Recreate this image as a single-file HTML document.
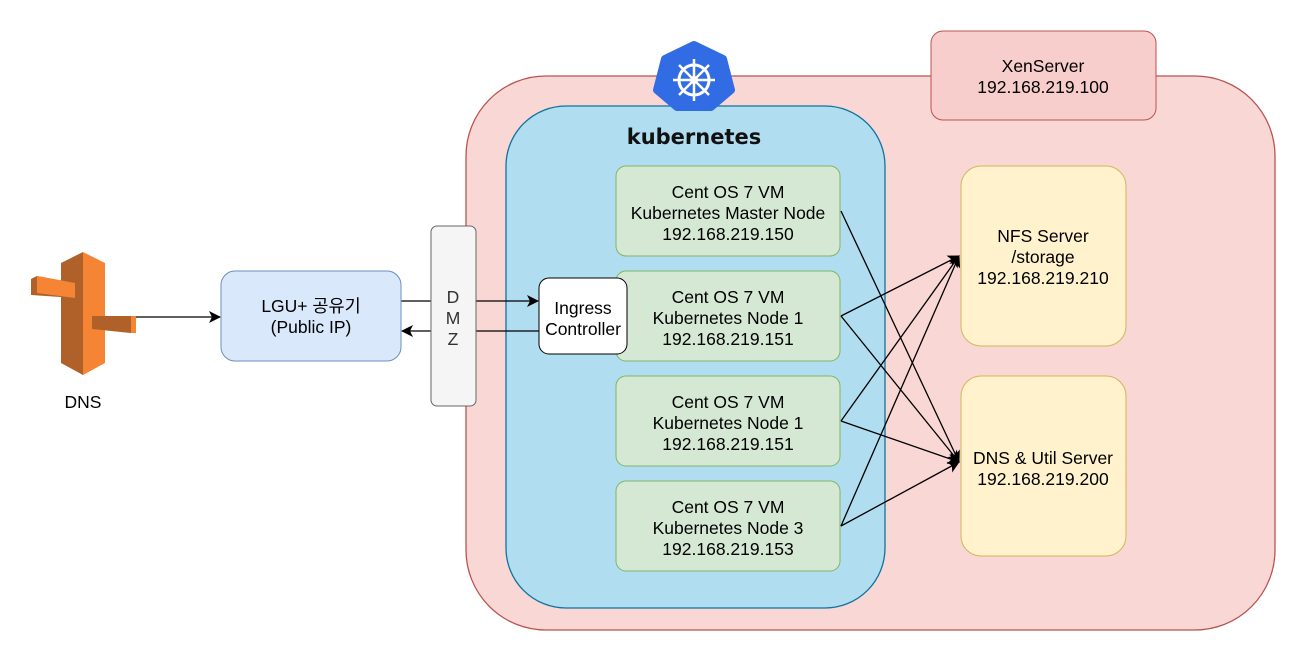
<!DOCTYPE html>
<html><head><meta charset="utf-8"><style>
body{margin:0;background:#fff;width:1307px;height:662px;overflow:hidden;font-family:"Liberation Sans","Noto Sans CJK KR",sans-serif;}
</style></head><body>
<svg width="1307" height="662" xmlns="http://www.w3.org/2000/svg" font-family="Liberation Sans, Noto Sans CJK KR, sans-serif" font-size="17.5" fill="#000">
<defs><marker id="a" markerWidth="12" markerHeight="12" refX="11" refY="6" orient="auto" markerUnits="userSpaceOnUse"><path d="M0,0 L12,6 L0,12 L3,6 Z" fill="#000"/></marker></defs>
<rect x="466" y="76" width="809" height="554" rx="80" fill="#f8d7d5" stroke="#b85450" stroke-width="1.3"/>
<rect x="931" y="31" width="225" height="89" rx="12" fill="#f8cecc" stroke="#b85450"/>
<text x="1043" y="72" text-anchor="middle">XenServer</text>
<text x="1043" y="93" text-anchor="middle">192.168.219.100</text>
<rect x="506" y="106" width="379" height="502" rx="60" fill="#b1ddf0" stroke="#10739e" stroke-width="1.3"/>
<polygon points="694,45 723,59 731,90 711,107 677,107 657,90 665,59" fill="#326ce5" stroke="#326ce5" stroke-width="8" stroke-linejoin="round"/>
<g stroke="#fff" stroke-width="3" fill="none"><circle cx="694" cy="80" r="15"/>
<g stroke-width="2.5"><line x1="694" y1="59" x2="694" y2="101"/><line x1="673" y1="80" x2="715" y2="80"/><line x1="679" y1="65" x2="709" y2="95"/><line x1="709" y1="65" x2="679" y2="95"/></g></g>
<circle cx="694" cy="80" r="4" fill="#fff"/>
<text x="694" y="144" text-anchor="middle" font-size="21" font-weight="bold" font-family="DejaVu Sans, sans-serif" fill="#111">kubernetes</text>
<g fill="#d5e8d4" stroke="#82b366"><rect x="616" y="166" width="224" height="90" rx="10"/><rect x="616" y="271" width="224" height="90" rx="10"/><rect x="616" y="376" width="224" height="90" rx="10"/><rect x="616" y="481" width="224" height="90" rx="10"/></g>
<g text-anchor="middle">
<text x="728" y="198">Cent OS 7 VM</text><text x="728" y="219">Kubernetes Master Node</text><text x="728" y="240">192.168.219.150</text>
<text x="728" y="303">Cent OS 7 VM</text><text x="728" y="324">Kubernetes Node 1</text><text x="728" y="345">192.168.219.151</text>
<text x="728" y="408">Cent OS 7 VM</text><text x="728" y="429">Kubernetes Node 1</text><text x="728" y="450">192.168.219.151</text>
<text x="728" y="513">Cent OS 7 VM</text><text x="728" y="534">Kubernetes Node 3</text><text x="728" y="555">192.168.219.153</text>
</g>
<rect x="539" y="278" width="88" height="76" rx="10" fill="#fff" stroke="#000"/>
<text x="583" y="314" text-anchor="middle">Ingress</text><text x="583" y="335" text-anchor="middle">Controller</text>
<g fill="#fff2cc" stroke="#d6b656"><rect x="961" y="166" width="165" height="180" rx="20"/><rect x="961" y="376" width="165" height="180" rx="20"/></g>
<g text-anchor="middle"><text x="1043" y="242">NFS Server</text><text x="1043" y="263">/storage</text><text x="1043" y="284">192.168.219.210</text>
<text x="1043" y="464">DNS &amp; Util Server</text><text x="1043" y="485">192.168.219.200</text></g>
<g stroke="#000" stroke-width="1.3" fill="none" marker-end="url(#a)">
<line x1="841" y1="211" x2="959" y2="462"/>
<line x1="841" y1="316" x2="959" y2="256"/><line x1="841" y1="316" x2="959" y2="462"/>
<line x1="841" y1="421" x2="959" y2="256"/><line x1="841" y1="421" x2="959" y2="462"/>
<line x1="841" y1="526" x2="959" y2="256"/><line x1="841" y1="526" x2="959" y2="462"/>
<line x1="135" y1="317" x2="220" y2="317"/>
<line x1="476" y1="301" x2="538" y2="301"/>
<line x1="431" y1="331" x2="402" y2="331"/>
</g>
<g stroke="#000" stroke-width="1.3"><line x1="401" y1="301" x2="431" y2="301"/><line x1="539" y1="331" x2="476" y2="331"/></g>
<rect x="221" y="271" width="180" height="90" rx="14" fill="#dae8fc" stroke="#6c8ebf"/>
<text x="311" y="312" text-anchor="middle">LGU+ 공유기</text><text x="311" y="333" text-anchor="middle">(Public IP)</text>
<rect x="431" y="226" width="45" height="180" rx="6" fill="#f5f5f5" stroke="#666"/>
<g text-anchor="middle" fill="#333"><text x="453" y="303">D</text><text x="453" y="324">M</text><text x="453" y="345">Z</text></g>
<polygon points="61,263 83,252 83,375 61,363" fill="#b0612a"/>
<polygon points="83,252 105,263 105,363 83,375" fill="#f58534"/>
<polygon points="31,279 37,276 75,283 75,298 31,295" fill="#b0612a"/>
<polygon points="37,276 75,283 75,298 37,293" fill="#f58534"/>
<polygon points="92,316 131,316 131,333 92,329" fill="#b0612a"/>
<polygon points="131,316 136,316 136,333 131,333" fill="#f58534"/>
<text x="83" y="408" text-anchor="middle">DNS</text>
</svg>
</body></html>
